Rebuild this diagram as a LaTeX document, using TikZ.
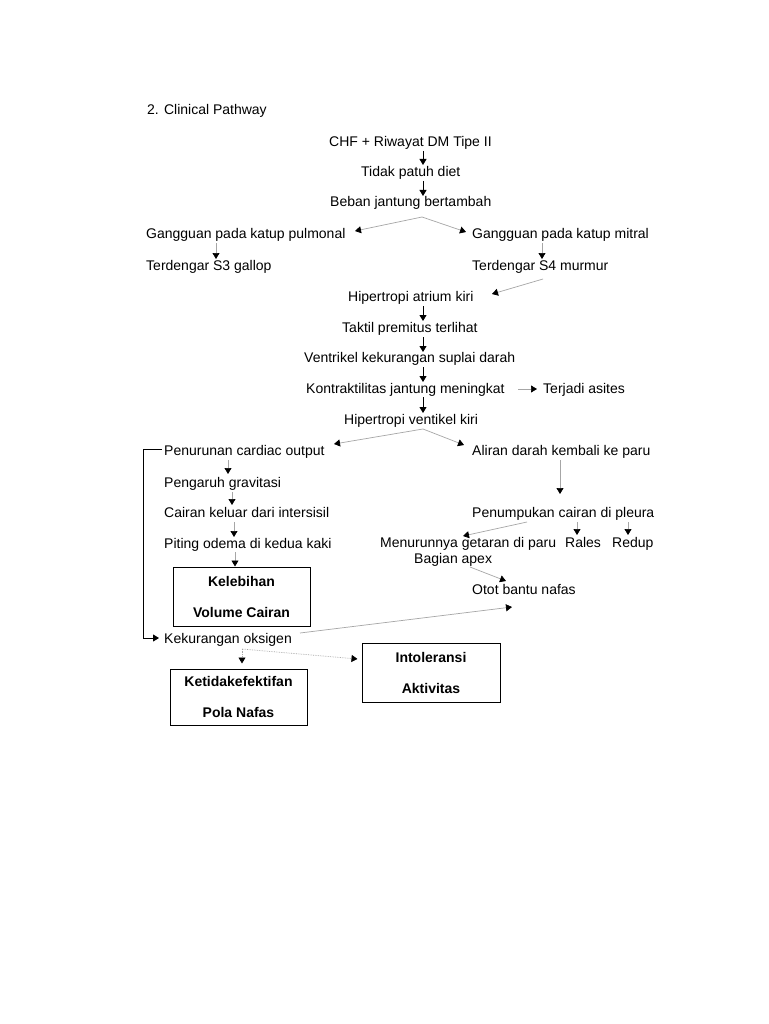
\documentclass[tikz,border=0pt]{standalone}
\usepackage{fontspec}
\setmainfont{Liberation Sans}
\usetikzlibrary{arrows.meta}
\begin{document}
\begin{tikzpicture}[x=1pt,y=-1pt,
  lbl/.style={anchor=base west, inner sep=0pt, font=\fontsize{14}{16}\selectfont},
  bx/.style={draw, line width=1pt, inner sep=0pt, align=center, font=\fontsize{14}{31}\selectfont\bfseries},
  barr/.style={-{Triangle[length=6pt,width=7pt]}, line width=0.9pt, draw=black},
  garr/.style={-{Triangle[length=6pt,width=7pt,color=black]}, line width=0.7pt, draw=gray!70},
  darr/.style={-{Triangle[length=6pt,width=7pt,color=black]}, line width=0.7pt, draw=gray!70, densely dotted}]
\useasboundingbox[fill=white] (0,0) rectangle (768,1024);

% texts
\node[lbl] (title) at (147,115) {2. Clinical Pathway};
\node[lbl] (chf) at (329,147) {CHF + Riwayat DM Tipe II};
\node[lbl] (tidak) at (361,177) {Tidak patuh diet};
\node[lbl] (beban) at (330,207) {Beban jantung bertambah};
\node[lbl] (gp) at (146,238) {Gangguan pada katup pulmonal};
\node[lbl] (gm) at (472,238) {Gangguan pada katup mitral};
\node[lbl] (s3) at (146,270) {Terdengar S3 gallop};
\node[lbl] (s4) at (472,270) {Terdengar S4 murmur};
\node[lbl] (hipa) at (348,301) {Hipertropi atrium kiri};
\node[lbl] (taktil) at (342,332) {Taktil premitus terlihat};
\node[lbl] (ventrikel) at (304,362) {Ventrikel kekurangan suplai darah};
\node[lbl] (kontrak) at (306,393) {Kontraktilitas jantung meningkat};
\node[lbl] (asites) at (543,393) {Terjadi asites};
\node[lbl] (hipv) at (344,424) {Hipertropi ventikel kiri};
\node[lbl] (pen) at (164,455) {Penurunan cardiac output};
\node[lbl] (aliran) at (472,455) {Aliran darah kembali ke paru};
\node[lbl] (peng) at (164,487) {Pengaruh gravitasi};
\node[lbl] (cair) at (164,517) {Cairan keluar dari intersisil};
\node[lbl] (penum) at (472,517) {Penumpukan cairan di pleura};
\node[lbl] (piting) at (164,548) {Piting odema di kedua kaki};
\node[lbl] (menur) at (380,547) {Menurunnya getaran di paru};
\node[lbl] (rales) at (565,547) {Rales};
\node[lbl] (redup) at (612,547) {Redup};
\node[lbl] (bagian) at (414,563) {Bagian apex};
\node[lbl] (otot) at (472,594) {Otot bantu nafas};
\node[lbl] (kekur) at (164,643) {Kekurangan oksigen};

% boxes
\node[bx, minimum width=137pt, minimum height=59pt] (kel) at (241.5,596.5) {Kelebihan\\Volume Cairan};
\node[bx, minimum width=137pt, minimum height=56pt] (ketid) at (238.5,697) {Ketidakefektifan\\Pola Nafas};
\node[bx, minimum width=138pt, minimum height=59pt] (intol) at (431,672.5) {Intoleransi\\Aktivitas};

% connectors
\draw[barr] ([shift={(94,4)}]chf.base west) -- ([shift={(62,-12)}]tidak.base west);
\draw[barr] ([shift={(62,4)}]tidak.base west) -- ([shift={(93,-11)}]beban.base west);
\draw[garr] ([shift={(92,10)}]beban.base west) -- ([shift={(209,-7)}]gp.base west);
\draw[garr] ([shift={(92,10)}]beban.base west) -- ([shift={(-6,-6)}]gm.base west);
\draw[garr] ([shift={(70,5)}]gp.base west) -- ([shift={(70,-11)}]s3.base west);
\draw[garr] ([shift={(70,5)}]gm.base west) -- ([shift={(70,-11)}]s4.base west);
\draw[garr] ([shift={(71,9)}]s4.base west) -- ([shift={(144,-7)}]hipa.base west);
\draw[barr] ([shift={(75,5)}]hipa.base west) -- ([shift={(81,-11)}]taktil.base west);
\draw[barr] ([shift={(81,5)}]taktil.base west) -- ([shift={(119,-10)}]ventrikel.base west);
\draw[barr] ([shift={(119,5)}]ventrikel.base west) -- ([shift={(117,-11)}]kontrak.base west);
\draw[garr] ([shift={(212,-4)}]kontrak.base west) -- ([shift={(-6,-4)}]asites.base west);
\draw[barr] ([shift={(117,4)}]kontrak.base west) -- ([shift={(79,-11)}]hipv.base west);
\draw[garr] ([shift={(79,5)}]hipv.base west) -- ([shift={(170,-11)}]pen.base west);
\draw[garr] ([shift={(79,5)}]hipv.base west) -- ([shift={(-8,-10)}]aliran.base west);
\draw[garr] ([shift={(64,5)}]pen.base west) -- ([shift={(64,-13)}]peng.base west);
\draw[garr] ([shift={(68,5)}]peng.base west) -- ([shift={(68,-12)}]cair.base west);
\draw[garr] ([shift={(70,5)}]cair.base west) -- ([shift={(70,-11)}]piting.base west);
\draw[garr] ([shift={(71,4)}]piting.base west) -- ([xshift=-6.5pt]kel.north);
\draw[garr] ([shift={(88,5)}]aliran.base west) -- ([shift={(88,-23)}]penum.base west);
\draw[garr] ([shift={(55,5)}]penum.base west) -- ([shift={(83,-11)}]menur.base west);
\draw[garr] ([shift={(105,5)}]penum.base west) -- ([shift={(12,-12)}]rales.base west);
\draw[garr] ([shift={(156,5)}]penum.base west) -- ([shift={(16,-12)}]redup.base west);
\draw[garr] ([shift={(56,4)}]bagian.base west) -- ([shift={(34,-13)}]otot.base west);
\draw[garr] ([shift={(136,-10)}]kekur.base west) -- ([shift={(40,13)}]otot.base west);
\draw[barr] ([shift={(-2,-6)}]pen.base west) -- ++(-19,0) |- ([shift={(-5,-5)}]kekur.base west);
\draw[darr] ([shift={(78,6)}]kekur.base west) -- ([xshift=3.5pt,yshift=5pt]ketid.north);
\draw[darr] ([shift={(78,6)}]kekur.base west) -- ([xshift=-4pt,yshift=13.5pt]intol.west);
\end{tikzpicture}
\end{document}
